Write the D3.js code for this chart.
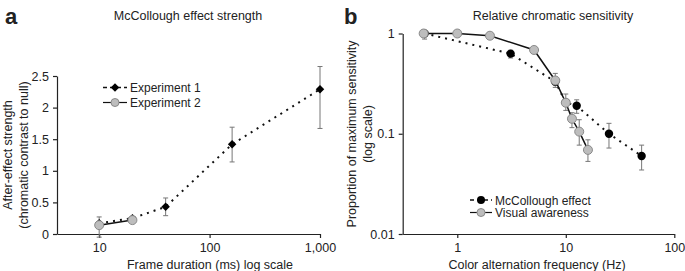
<!DOCTYPE html>
<html>
<head>
<meta charset="utf-8">
<script src="https://cdn.jsdelivr.net/npm/d3@7"></script>
<style>
  body { margin: 0; background: #fff; }
  svg text { font-family: "Liberation Sans", Arial, sans-serif; fill: #222; }
</style>
</head>
<body>
<div id="chart"></div>
<script>
// ---------- data (panel a) ----------
var exp1_ms = [10, 20, 40, 160, 1000];
var exp1_val = [0.17, 0.25, 0.43, 1.42, 2.29];
var exp1_lo = [0.17, 0.25, 0.29, 1.14, 1.67];
var exp1_hi = [0.17, 0.25, 0.57, 1.69, 2.65];

var exp2_ms = [10, 20];
var exp2_val = [0.14, 0.22];
var exp2_lo = [-0.05, 0.17];
var exp2_hi = [0.27, 0.27];

var a_xticks = [10, 100, 1000];
var a_xlabels = ["10", "100", "1,000"];
var a_yticks = [0, 0.5, 1, 1.5, 2, 2.5];
var a_ylabels = ["0", "0.5", "1", "1.5", "2", "2.5"];

// ---------- data (panel b) ----------
var mcc_hz = [0.5, 3.1, 8, 10, 12.6, 25, 50];
var mcc_val = [1.0, 0.63, 0.33, 0.205, 0.19, 0.1, 0.06];
var mcc_lo = [0.88, 0.57, 0.33, 0.205, 0.16, 0.072, 0.0435];
var mcc_hi = [1.0, 0.68, 0.33, 0.205, 0.218, 0.127, 0.077];

var vis_hz = [0.49, 1, 2, 5.1, 8, 10, 11.4, 13.3, 16];
var vis_val = [1.0, 1.0, 0.95, 0.685, 0.34, 0.204, 0.141, 0.105, 0.069];
var vis_lo = [0.97, 1.0, 0.95, 0.66, 0.29, 0.171, 0.115, 0.077, 0.053];
var vis_hi = [1.03, 1.0, 0.95, 0.71, 0.40, 0.249, 0.162, 0.138, 0.087];

var b_xticks = [1, 10, 100];
var b_xlabels = ["1", "10", "100"];
var b_yticks = [0.01, 0.1, 1];
var b_ylabels = ["0.01", "0.1", "1"];

var W = 685, H = 271;
var svg = d3.select("#chart").append("svg")
    .attr("width", W).attr("height", H);

function zip(xs, ys, lo, hi) {
    return xs.map(function (x, i) { return { x: x, y: ys[i], lo: lo[i], hi: hi[i] }; });
}

var gray = "#777";
var grayFill = "#bdbdbd";

function drawAxes(g, x, y, xt, xl, yt, yl) {
    var xa = g.append("g")
        .attr("transform", "translate(0," + y.range()[0] + ")")
        .call(d3.axisBottom(x).tickValues(xt).tickSize(4).tickSizeOuter(0).tickPadding(5)
            .tickFormat(function (d, i) { return xl[i]; }));
    var ya = g.append("g")
        .attr("transform", "translate(" + x.range()[0] + ",0)")
        .call(d3.axisLeft(y).tickValues(yt).tickSize(4).tickSizeOuter(0).tickPadding(4)
            .tickFormat(function (d, i) { return yl[i]; }));
    [xa, ya].forEach(function (a) {
        a.selectAll("path, line").attr("stroke", "#222").attr("stroke-width", 1.2);
        a.selectAll("text").style("font-size", "12.5px")
            .style("font-family", "'Liberation Sans', Arial, sans-serif").attr("fill", "#222");
    });
}

function errorBars(g, pts, x, y) {
    var eb = g.append("g").attr("stroke", gray).attr("stroke-width", 1);
    pts.filter(function (d) { return d.hi !== d.lo; }).forEach(function (d) {
        var px = x(d.x);
        eb.append("line").attr("x1", px).attr("x2", px).attr("y1", y(d.lo)).attr("y2", y(d.hi));
        eb.append("line").attr("x1", px - 2.5).attr("x2", px + 2.5).attr("y1", y(d.lo)).attr("y2", y(d.lo));
        eb.append("line").attr("x1", px - 2.5).attr("x2", px + 2.5).attr("y1", y(d.hi)).attr("y2", y(d.hi));
    });
}

function seriesLine(g, pts, x, y, dotted) {
    var line = d3.line().x(function (d) { return x(d.x); }).y(function (d) { return y(d.y); });
    g.append("path").datum(pts)
        .attr("d", line)
        .attr("fill", "none")
        .attr("stroke", "#111")
        .attr("stroke-width", dotted ? 2 : 1.5)
        .attr("stroke-dasharray", dotted ? "2,5" : null);
}

function label(text, x, y, size, weight, anchor) {
    svg.append("text").attr("x", x).attr("y", y)
        .attr("text-anchor", anchor || "middle")
        .style("font-size", size + "px")
        .style("font-weight", weight || "normal")
        .text(text);
}

function ylabel(lines, cx, cy) {
    lines.forEach(function (t, i) {
        svg.append("text")
            .attr("transform", "translate(" + (cx + i * 16) + "," + cy + ") rotate(-90)")
            .attr("text-anchor", "middle")
            .style("font-size", "12.5px")
            .text(t);
    });
}

// square turned 45 degrees, looks like the diamond in the original
var diamond = d3.symbol().type(d3.symbolSquare).size(36);
function diaAt(px, py) { return "translate(" + px + "," + py + ") rotate(45)"; }

// ================= panel a =================
var ga = svg.append("g");
var xa = d3.scaleLog().domain([4.15, 1000]).range([57, 320]);
var ya = d3.scaleLinear().domain([0, 2.5]).range([234, 76]);

drawAxes(ga, xa, ya, a_xticks, a_xlabels, a_yticks, a_ylabels);

var e1 = zip(exp1_ms, exp1_val, exp1_lo, exp1_hi);
var e2 = zip(exp2_ms, exp2_val, exp2_lo, exp2_hi);

errorBars(ga, e1, xa, ya);
errorBars(ga, e2, xa, ya);
seriesLine(ga, e1, xa, ya, true);
seriesLine(ga, e2, xa, ya, false);

ga.selectAll(".dia").data(e1).join("path")
    .attr("d", diamond)
    .attr("transform", function (d) { return diaAt(xa(d.x), ya(d.y)); })
    .attr("fill", "#000");
ga.selectAll(".gc").data(e2).join("circle")
    .attr("cx", function (d) { return xa(d.x); })
    .attr("cy", function (d) { return ya(d.y); })
    .attr("r", 4.5)
    .attr("fill", grayFill).attr("stroke", "#8a8a8a").attr("stroke-width", 1);

// legend a
var la = svg.append("g");
la.append("line").attr("x1", 103).attr("x2", 127).attr("y1", 87.5).attr("y2", 87.5)
    .attr("stroke", "#111").attr("stroke-width", 1.5).attr("stroke-dasharray", "4,3");
la.append("path").attr("d", diamond).attr("transform", diaAt(115, 87.5)).attr("fill", "#000");
la.append("line").attr("x1", 103).attr("x2", 127).attr("y1", 102.5).attr("y2", 102.5)
    .attr("stroke", "#111").attr("stroke-width", 1.2);
la.append("circle").attr("cx", 115).attr("cy", 102.5).attr("r", 4)
    .attr("fill", grayFill).attr("stroke", "#8a8a8a");
label("Experiment 1", 130, 92, 12, "normal", "start");
label("Experiment 2", 130, 107, 12, "normal", "start");

label("a", 5, 24, 22, "bold", "start");
label("McCollough effect strength", 188, 20, 12.5);
label("Frame duration (ms) log scale", 210, 269, 12.5);
ylabel(["After-effect strength", "(chromatic contrast to null)"], 12, 155);

// ================= panel b =================
var gb = svg.append("g");
var xb = d3.scaleLog().domain([0.314, 100]).range([402.7, 674.3]);
var yb = d3.scaleLog().domain([0.01, 1]).range([234, 33.5]);

drawAxes(gb, xb, yb, b_xticks, b_xlabels, b_yticks, b_ylabels);

var mcc = zip(mcc_hz, mcc_val, mcc_lo, mcc_hi);
var vis = zip(vis_hz, vis_val, vis_lo, vis_hi);

errorBars(gb, mcc, xb, yb);
errorBars(gb, vis, xb, yb);
seriesLine(gb, mcc, xb, yb, true);
seriesLine(gb, vis, xb, yb, false);

gb.selectAll(".bc").data(mcc).join("circle")
    .attr("cx", function (d) { return xb(d.x); })
    .attr("cy", function (d) { return yb(d.y); })
    .attr("r", 4.2)
    .attr("fill", "#000");
gb.selectAll(".gc").data(vis).join("circle")
    .attr("cx", function (d) { return xb(d.x); })
    .attr("cy", function (d) { return yb(d.y); })
    .attr("r", 4.5)
    .attr("fill", grayFill).attr("stroke", "#8a8a8a").attr("stroke-width", 1);

// legend b
var lb = svg.append("g");
lb.append("line").attr("x1", 470).attr("x2", 492).attr("y1", 200).attr("y2", 200)
    .attr("stroke", "#111").attr("stroke-width", 1.5).attr("stroke-dasharray", "4,3");
lb.append("circle").attr("cx", 481).attr("cy", 200).attr("r", 4).attr("fill", "#000");
lb.append("line").attr("x1", 470).attr("x2", 492).attr("y1", 212.5).attr("y2", 212.5)
    .attr("stroke", "#111").attr("stroke-width", 1.2);
lb.append("circle").attr("cx", 481).attr("cy", 212.5).attr("r", 4)
    .attr("fill", grayFill).attr("stroke", "#8a8a8a");
label("McCollough effect", 495, 204.5, 12, "normal", "start");
label("Visual awareness", 495, 217, 12, "normal", "start");

label("b", 344, 24, 22, "bold", "start");
label("Relative chromatic sensitivity", 553, 20, 12.5);
label("Color alternation frequency (Hz)", 537, 269, 12.5);
ylabel(["Proportion of maximum sensitivity", "(log scale)"], 356, 134);
</script>
</body>
</html>
